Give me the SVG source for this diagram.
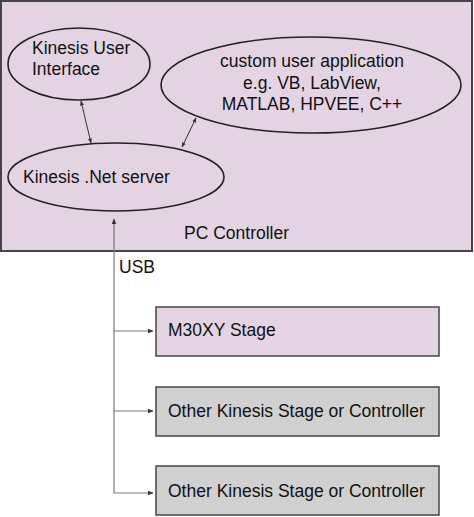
<svg xmlns="http://www.w3.org/2000/svg" width="474" height="517" viewBox="0 0 474 517">
<defs>
<style>
text{font-family:"Liberation Sans",Arial,sans-serif;font-size:17.5px;fill:#111}
.ell{fill:#e4d4e3;stroke:#222;stroke-width:1.6}
.box{stroke:#444;stroke-width:1.5}
.ln{stroke:#333;stroke-width:1;fill:none}
.usb{stroke:#777;stroke-width:1.2;fill:none}
</style>
<marker id="ah" viewBox="0 0 10 10" refX="9" refY="5" markerWidth="5" markerHeight="5" orient="auto-start-reverse">
<path d="M0,1 L10,5 L0,9 Z" fill="#333"/>
</marker>
</defs>
<rect width="474" height="517" fill="#fff"/>
<g id="pc-controller">
<rect x="1" y="1" width="471" height="250" fill="#e4d4e3" stroke="#444" stroke-width="2"/>
<text x="184" y="239">PC Controller</text>
</g>
<g id="kinesis-ui">
<ellipse class="ell" cx="79" cy="64" rx="71" ry="36"/>
<text x="32" y="54">Kinesis User</text>
<text x="32" y="75">Interface</text>
</g>
<g id="custom-app">
<ellipse class="ell" cx="311" cy="85" rx="150" ry="48"/>
<text x="312" y="67" text-anchor="middle">custom user application</text>
<text x="312" y="89" text-anchor="middle">e.g. VB, LabView,</text>
<text x="312" y="110" text-anchor="middle">MATLAB, HPVEE, C++</text>
</g>
<g id="net-server">
<ellipse class="ell" cx="116" cy="177" rx="108" ry="34"/>
<text x="23" y="183">Kinesis .Net server</text>
</g>
<g id="m30xy">
<rect class="box" x="156" y="307" width="283" height="49" fill="#e4d4e3"/>
<text x="168" y="336">M30XY Stage</text>
</g>
<g id="other1">
<rect class="box" x="156" y="387" width="283" height="49" fill="#d0d0d0"/>
<text x="168" y="417">Other Kinesis Stage or Controller</text>
</g>
<g id="other2">
<rect class="box" x="156" y="466" width="283" height="49" fill="#d0d0d0"/>
<text x="168" y="497">Other Kinesis Stage or Controller</text>
</g>
<g id="connectors">
<line class="ln" x1="81" y1="101" x2="91" y2="143" marker-start="url(#ah)" marker-end="url(#ah)"/>
<line class="ln" x1="196" y1="118" x2="182" y2="147" marker-start="url(#ah)" marker-end="url(#ah)"/>
<polyline class="usb" points="114,219 114,493 153,493" marker-start="url(#ah)" marker-end="url(#ah)"/>
<line class="usb" x1="114" y1="331" x2="153" y2="331" marker-end="url(#ah)"/>
<line class="usb" x1="114" y1="411" x2="153" y2="411" marker-end="url(#ah)"/>
<text x="119" y="273">USB</text>
</g>
</svg>
